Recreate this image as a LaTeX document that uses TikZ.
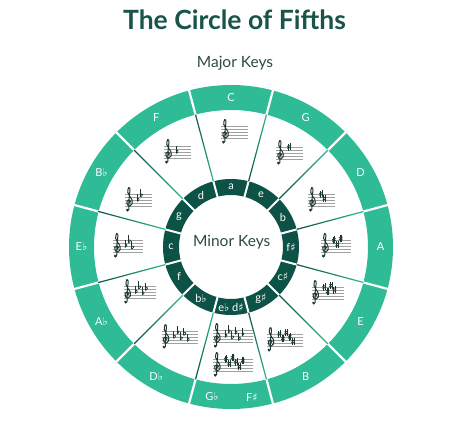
\documentclass[tikz,border=0pt]{standalone}
\usepackage{fontspec}
\setmainfont{Lato}
\newfontfamily\symfont{DejaVu Sans}
\definecolor{ringgreen}{RGB}{46,187,149}
\definecolor{ringdark}{RGB}{13,82,71}
\definecolor{titleteal}{RGB}{24,84,72}
\definecolor{keytext}{RGB}{45,75,70}
\definecolor{staffgray}{RGB}{160,160,160}
\definecolor{clefink}{RGB}{30,55,50}
\newcommand{\kflat}{{\symfont\char"266D}}
\newcommand{\ksharp}{{\symfont\char"266F}}
\tikzset{
    staffline/.style={draw=staffgray, line width=0.5pt},
    clefpen/.style={draw=clefink, line width=1pt, line cap=round},
    accpen/.style={draw=clefink, line width=0.5pt},
    accbar/.style={draw=clefink, line width=0.9pt},
}
% one small treble staff with n sharps (s) or flats (f)
\newcommand{\keystaff}[4]{%
  \begin{scope}[shift={(#1,#2)}]
    \pgfmathsetmacro\stw{max(27,19+3.4*#3)}
    \foreach \k in {-2,...,2}
      \draw[staffline] (-\stw/2,\k*3) -- (\stw/2,\k*3);
    \begin{scope}[shift={(-\stw/2+0.3,-6)}, x=3pt, y=3pt]
      \draw[clefpen] plot[smooth, tension=0.7] coordinates {(1.15,1.05) (1.6,1.55) (1.05,2.1) (0.35,1.5) (0.55,0.35) (1.35,0.0) (2.1,0.7) (2.0,2.2) (1.2,3.4) (0.65,4.6) (0.95,6.1) (1.4,5.6) (1.3,4.3) (1.05,2.0) (1.05,0) (1.0,-1.2) (0.6,-1.65) (0.3,-1.35)};
      \fill[clefink] (0.45,-1.25) circle[radius=1.1pt];
    \end{scope}
    \if#4s
      \foreach \p [count=\i] in {8,5,9,6,3,7} {
        \ifnum\i>#3\relax\else
          \begin{scope}[shift={(-\stw/2+12.5+\i*3.4-3.4,\p*1.5-6)}]
            \draw[accpen] (-0.8,-3.6) -- (-0.8,3.1) (0.8,-3.1) -- (0.8,3.6);
            \draw[accbar] (-1.8,-1.3) -- (1.8,-0.5) (-1.8,0.6) -- (1.8,1.4);
          \end{scope}
        \fi}
    \else
      \foreach \p [count=\i] in {4,7,3,6,2,5} {
        \ifnum\i>#3\relax\else
          \begin{scope}[shift={(-\stw/2+12.5+\i*3.4-3.4,\p*1.5-6)}]
            \draw[accpen] (-1,-1.5) -- (-1,6);
            \draw[accpen, line width=0.7pt] (-1,-1.5) .. controls (1.9,0) and (1.6,2.6) .. (-1,1.1);
          \end{scope}
        \fi}
    \fi
  \end{scope}}

\begin{document}
\begin{tikzpicture}[
    x=1pt, y=1pt,
    every node/.style={inner sep=0pt},
    titletext/.style={font=\bfseries\fontsize{26.5}{30}\selectfont, text=titleteal},
    headtext/.style={font=\fontsize{15.5}{18}\selectfont, text=keytext},
    majlabel/.style={font=\fontsize{11}{13}\selectfont, text=white},
    minlabel/.style={font=\fontsize{11}{13}\selectfont, text=white},
]
\fill[white] (-231,-183) rectangle (238,247);
\useasboundingbox (-231,-183) rectangle (238,247);
\node[titletext, anchor=base] (title) at (3.5,217) {The Circle of Fifths};
\node[headtext, anchor=base] (majorhead) at (4,179) {Major Keys};
% rings
\fill[ringgreen, even odd rule] (0,0) circle[radius=162pt] (0,0) circle[radius=137pt];
\fill[ringdark, even odd rule] (0,0) circle[radius=68pt] (0,0) circle[radius=52pt];
\foreach \a in {15,45,...,345} {
    \draw[white, line width=2.2pt] (\a:136pt) -- (\a:163pt);
    \draw[white, line width=2pt] (\a:51pt) -- (\a:69pt);
    \begin{scope}[rotate=\a]
        \shade[left color=ringdark, right color=ringgreen] (68,-0.6) rectangle (137,0.6);
    \end{scope}
}
\node[headtext, anchor=base] (minorhead) at (0.7,0) {Minor Keys};
% major keys
\foreach \ang/\lab [count=\i] in {90/C, 60/G, 30/D, 0/A, -30/E, -60/B, -120/D\kflat, -150/A\kflat, 180/E\kflat, 150/B\kflat, 120/F}
    \node[majlabel] (maj\i) at (\ang:149.5pt) {\lab};
\node[majlabel] (gflat) at (-19,-150) {G\kflat};
\node[majlabel] (fsharp) at (21,-150) {F\ksharp};
% minor keys
\foreach \ang/\lab [count=\i] in {90/a, 60/e, 30/b, 0/f\ksharp, -30/c\ksharp, -60/g\ksharp, -90/e\kflat\ d\ksharp, -120/b\kflat, -150/f, 180/c, 150/g, 120/d}
    \node[minlabel] (min\i) at (\ang:60pt) {\lab};
% key signatures
\keystaff{4}{115}{0}{s}
\keystaff{59}{94}{1}{s}
\keystaff{91}{47}{2}{s}
\keystaff{105}{1}{3}{s}
\keystaff{97}{-46}{4}{s}
\keystaff{54}{-93}{5}{s}
\keystaff{2}{-118}{6}{s}
\keystaff{2}{-89}{6}{f}
\keystaff{-51}{-90}{5}{f}
\keystaff{-91}{-45}{4}{f}
\keystaff{-103}{1}{3}{f}
\keystaff{-92}{47}{2}{f}
\keystaff{-53}{95}{1}{f}
\end{tikzpicture}
\end{document}
